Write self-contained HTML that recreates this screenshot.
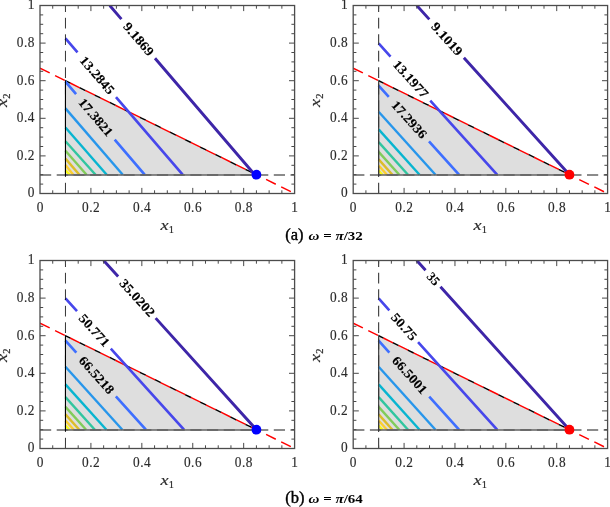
<!DOCTYPE html>
<html><head><meta charset="utf-8"><title>figure</title>
<style>
html,body{margin:0;padding:0;background:#fff;}
body{width:610px;height:507px;overflow:hidden;}
svg{display:block;font-family:"Liberation Serif", "DejaVu Serif", serif;}
</style></head><body>
<svg width="610" height="507" viewBox="0 0 610 507">
<rect x="0" y="0" width="610" height="507" fill="#fff"/>
<clipPath id="clip1"><rect x="40" y="5.5" width="254.6" height="188"/></clipPath>
<g clip-path="url(#clip1)">
<polygon points="65.46,174.7 65.46,80.7 256.41,174.7" fill="#DEDEDE"/>
<clipPath id="hyp1"><rect x="65.46" y="5.5" width="190.95" height="188"/></clipPath>
<path clip-path="url(#hyp1)" d="M40 68.17L294.6 193.5" stroke="#000" stroke-width="1.4" stroke-dasharray="6.6 10.2" stroke-dashoffset="6.3" fill="none"/>
<path d="M40 68.17L294.6 193.5" stroke="#F00" stroke-width="1.45" stroke-dasharray="10.8 6" fill="none"/>
<path d="M109.76 5.5L121.41 19.1M154.99 58.28L254.76 174.7" stroke="#3E26A8" stroke-width="2.9" fill="none"/>
<path d="M65.46 38.31L77.52 52.35M115.98 97.1L182.65 174.7" stroke="#4747EB" stroke-width="2.65" fill="none"/>
<path d="M65.46 81.64L76.09 94.13M114.71 139.52L144.64 174.7" stroke="#3E6FFF" stroke-width="2.65" fill="none"/>
<path d="M65.46 108.37L122.75 174.7" stroke="#2796EB" stroke-width="2.4" fill="none"/>
<path d="M65.46 127.57L106.71 174.7" stroke="#08B5D0" stroke-width="2.4" fill="none"/>
<path d="M65.46 141.18L95.55 174.7" stroke="#31C69F" stroke-width="2.4" fill="none"/>
<path d="M65.46 150.81L86.57 174.7" stroke="#81CC59" stroke-width="2.4" fill="none"/>
<path d="M65.46 158.61L79.41 174.7" stroke="#DCBD29" stroke-width="2.4" fill="none"/>
<path d="M65.46 164.89L73.25 174.7" stroke="#FCCF30" stroke-width="2.4" fill="none"/>
<path d="M65.46 170.41L69.58 174.7" stroke="#F9FB15" stroke-width="2.4" fill="none"/>
<path d="M40 175L294.6 175" stroke="#666" stroke-width="1.65" stroke-dasharray="11.2 5.5" fill="none"/>
<path d="M65.46 175L256.41 175" stroke="#606060" stroke-width="1.65" fill="none"/>
<path d="M65.46 80.2L65.46 175.7" stroke="#000" stroke-width="1.1" fill="none"/>
<path d="M65.46 193.5L65.46 5.5" stroke="#000" stroke-width="0.8" stroke-dasharray="10.7 5.8" fill="none"/>
<text transform="translate(138.6 39.14) rotate(49.41)" x="0" y="4.29" text-anchor="middle" font-weight="bold" font-size="13" textLength="39.77" lengthAdjust="spacingAndGlyphs" fill="#000" stroke="#000" stroke-width="0.12">9.1869</text>
<text transform="translate(97.15 75.17) rotate(49.33)" x="0" y="4.29" text-anchor="middle" font-weight="bold" font-size="13" textLength="45.59" lengthAdjust="spacingAndGlyphs" fill="#000" stroke="#000" stroke-width="0.12">13.2845</text>
<text transform="translate(95.8 117.28) rotate(49.61)" x="0" y="4.29" text-anchor="middle" font-weight="bold" font-size="13" textLength="45.59" lengthAdjust="spacingAndGlyphs" fill="#000" stroke="#000" stroke-width="0.12">17.3821</text>
</g>
<circle cx="256.41" cy="174.7" r="4.9" fill="#0000FF"/>
<path d="M52.73 193.5v-3.2M52.73 5.5v3.2M40 184.1h3.2M294.6 184.1h-3.2M65.46 193.5v-3.2M65.46 5.5v3.2M40 174.7h3.2M294.6 174.7h-3.2M78.19 193.5v-3.2M78.19 5.5v3.2M40 165.3h3.2M294.6 165.3h-3.2M90.92 193.5v-5.6M90.92 5.5v5.6M40 155.9h5.6M294.6 155.9h-5.6M103.65 193.5v-3.2M103.65 5.5v3.2M40 146.5h3.2M294.6 146.5h-3.2M116.38 193.5v-3.2M116.38 5.5v3.2M40 137.1h3.2M294.6 137.1h-3.2M129.11 193.5v-3.2M129.11 5.5v3.2M40 127.7h3.2M294.6 127.7h-3.2M141.84 193.5v-5.6M141.84 5.5v5.6M40 118.3h5.6M294.6 118.3h-5.6M154.57 193.5v-3.2M154.57 5.5v3.2M40 108.9h3.2M294.6 108.9h-3.2M167.3 193.5v-3.2M167.3 5.5v3.2M40 99.5h3.2M294.6 99.5h-3.2M180.03 193.5v-3.2M180.03 5.5v3.2M40 90.1h3.2M294.6 90.1h-3.2M192.76 193.5v-5.6M192.76 5.5v5.6M40 80.7h5.6M294.6 80.7h-5.6M205.49 193.5v-3.2M205.49 5.5v3.2M40 71.3h3.2M294.6 71.3h-3.2M218.22 193.5v-3.2M218.22 5.5v3.2M40 61.9h3.2M294.6 61.9h-3.2M230.95 193.5v-3.2M230.95 5.5v3.2M40 52.5h3.2M294.6 52.5h-3.2M243.68 193.5v-5.6M243.68 5.5v5.6M40 43.1h5.6M294.6 43.1h-5.6M256.41 193.5v-3.2M256.41 5.5v3.2M40 33.7h3.2M294.6 33.7h-3.2M269.14 193.5v-3.2M269.14 5.5v3.2M40 24.3h3.2M294.6 24.3h-3.2M281.87 193.5v-3.2M281.87 5.5v3.2M40 14.9h3.2M294.6 14.9h-3.2" stroke="#484848" stroke-width="1" fill="none"/>
<rect x="40" y="5.5" width="254.6" height="188" fill="none" stroke="#4c4c4c" stroke-width="1.3"/>
<text transform="translate(40.25 211.7) scale(0.89 1)" text-anchor="middle" font-size="15" letter-spacing="0.5617977528089888" fill="#2a2a2a" stroke="#2a2a2a" stroke-width="0.15">0</text>
<text transform="translate(35 197.3) scale(0.89 1)" text-anchor="end" font-size="15" letter-spacing="0.5617977528089888" fill="#2a2a2a" stroke="#2a2a2a" stroke-width="0.15">0</text>
<text transform="translate(91.17 211.7) scale(0.89 1)" text-anchor="middle" font-size="15" letter-spacing="0.5617977528089888" fill="#2a2a2a" stroke="#2a2a2a" stroke-width="0.15">0.2</text>
<text transform="translate(35 159.7) scale(0.89 1)" text-anchor="end" font-size="15" letter-spacing="0.5617977528089888" fill="#2a2a2a" stroke="#2a2a2a" stroke-width="0.15">0.2</text>
<text transform="translate(142.09 211.7) scale(0.89 1)" text-anchor="middle" font-size="15" letter-spacing="0.5617977528089888" fill="#2a2a2a" stroke="#2a2a2a" stroke-width="0.15">0.4</text>
<text transform="translate(35 122.1) scale(0.89 1)" text-anchor="end" font-size="15" letter-spacing="0.5617977528089888" fill="#2a2a2a" stroke="#2a2a2a" stroke-width="0.15">0.4</text>
<text transform="translate(193.01 211.7) scale(0.89 1)" text-anchor="middle" font-size="15" letter-spacing="0.5617977528089888" fill="#2a2a2a" stroke="#2a2a2a" stroke-width="0.15">0.6</text>
<text transform="translate(35 84.5) scale(0.89 1)" text-anchor="end" font-size="15" letter-spacing="0.5617977528089888" fill="#2a2a2a" stroke="#2a2a2a" stroke-width="0.15">0.6</text>
<text transform="translate(243.93 211.7) scale(0.89 1)" text-anchor="middle" font-size="15" letter-spacing="0.5617977528089888" fill="#2a2a2a" stroke="#2a2a2a" stroke-width="0.15">0.8</text>
<text transform="translate(35 46.9) scale(0.89 1)" text-anchor="end" font-size="15" letter-spacing="0.5617977528089888" fill="#2a2a2a" stroke="#2a2a2a" stroke-width="0.15">0.8</text>
<text transform="translate(294.85 211.7) scale(0.89 1)" text-anchor="middle" font-size="15" letter-spacing="0.5617977528089888" fill="#2a2a2a" stroke="#2a2a2a" stroke-width="0.15">1</text>
<text transform="translate(35 9.3) scale(0.89 1)" text-anchor="end" font-size="15" letter-spacing="0.5617977528089888" fill="#2a2a2a" stroke="#2a2a2a" stroke-width="0.15">1</text>
<text transform="translate(160.4 230.3) scale(1.18 1)" font-style="italic" font-size="15.5" fill="#2a2a2a" stroke="#2a2a2a" stroke-width="0.2">x</text>
<text x="168.7" y="233.2" font-size="10.5" fill="#2a2a2a" stroke="#2a2a2a" stroke-width="0.2">1</text>
<text transform="translate(6.6 107) rotate(-90) scale(1.18 1)" font-style="italic" font-size="15.5" fill="#2a2a2a" stroke="#2a2a2a" stroke-width="0.2">x</text>
<text transform="translate(9.5 98.7) rotate(-90)" font-size="10.5" fill="#2a2a2a" stroke="#2a2a2a" stroke-width="0.2">2</text>
<clipPath id="clip2"><rect x="353.2" y="5.5" width="254.4" height="188"/></clipPath>
<g clip-path="url(#clip2)">
<polygon points="378.64,174.7 378.64,80.7 569.44,174.7" fill="#DEDEDE"/>
<clipPath id="hyp2"><rect x="378.64" y="5.5" width="190.8" height="188"/></clipPath>
<path clip-path="url(#hyp2)" d="M353.2 68.17L607.6 193.5" stroke="#000" stroke-width="1.4" stroke-dasharray="6.6 10.2" stroke-dashoffset="6.3" fill="none"/>
<path d="M353.2 68.17L607.6 193.5" stroke="#F00" stroke-width="1.45" stroke-dasharray="10.8 6" fill="none"/>
<path d="M416.8 5.5L429.32 19.38M463.88 57.69L569.44 174.7" stroke="#3E26A8" stroke-width="2.9" fill="none"/>
<path d="M378.64 43.42L390.54 56.61M430.26 100.65L497.07 174.7" stroke="#4747EB" stroke-width="2.65" fill="none"/>
<path d="M378.64 85.65L388.8 96.92M429 141.47L458.98 174.7" stroke="#3E6FFF" stroke-width="2.65" fill="none"/>
<path d="M378.64 111.7L435.47 174.7" stroke="#2796EB" stroke-width="2.4" fill="none"/>
<path d="M378.64 129.38L419.53 174.7" stroke="#08B5D0" stroke-width="2.4" fill="none"/>
<path d="M378.64 142.16L407.99 174.7" stroke="#31C69F" stroke-width="2.4" fill="none"/>
<path d="M378.64 151.84L399.27 174.7" stroke="#81CC59" stroke-width="2.4" fill="none"/>
<path d="M378.64 159.41L392.43 174.7" stroke="#DCBD29" stroke-width="2.4" fill="none"/>
<path d="M378.64 165.5L386.94 174.7" stroke="#FCCF30" stroke-width="2.4" fill="none"/>
<path d="M378.64 170.51L382.42 174.7" stroke="#F9FB15" stroke-width="2.4" fill="none"/>
<path d="M353.2 175L607.6 175" stroke="#666" stroke-width="1.65" stroke-dasharray="11.2 5.5" fill="none"/>
<path d="M378.64 175L569.44 175" stroke="#606060" stroke-width="1.65" fill="none"/>
<path d="M378.64 80.2L378.64 175.7" stroke="#404040" stroke-width="1.2" fill="none"/>
<path d="M378.64 193.5L378.64 5.5" stroke="#383838" stroke-width="1.1" stroke-dasharray="10.7 5.8" fill="none"/>
<text transform="translate(447 38.98) rotate(47.95)" x="0" y="4.29" text-anchor="middle" font-weight="bold" font-size="13" textLength="39.77" lengthAdjust="spacingAndGlyphs" fill="#000" stroke="#000" stroke-width="0.12">9.1019</text>
<text transform="translate(410.8 79.08) rotate(47.95)" x="0" y="4.29" text-anchor="middle" font-weight="bold" font-size="13" textLength="45.59" lengthAdjust="spacingAndGlyphs" fill="#000" stroke="#000" stroke-width="0.12">13.1977</text>
<text transform="translate(409.3 119.64) rotate(47.95)" x="0" y="4.29" text-anchor="middle" font-weight="bold" font-size="13" textLength="45.59" lengthAdjust="spacingAndGlyphs" fill="#000" stroke="#000" stroke-width="0.12">17.2936</text>
</g>
<circle cx="569.44" cy="174.7" r="4.9" fill="#FF0000"/>
<path d="M365.92 193.5v-3.2M365.92 5.5v3.2M353.2 184.1h3.2M607.6 184.1h-3.2M378.64 193.5v-3.2M378.64 5.5v3.2M353.2 174.7h3.2M607.6 174.7h-3.2M391.36 193.5v-3.2M391.36 5.5v3.2M353.2 165.3h3.2M607.6 165.3h-3.2M404.08 193.5v-5.6M404.08 5.5v5.6M353.2 155.9h5.6M607.6 155.9h-5.6M416.8 193.5v-3.2M416.8 5.5v3.2M353.2 146.5h3.2M607.6 146.5h-3.2M429.52 193.5v-3.2M429.52 5.5v3.2M353.2 137.1h3.2M607.6 137.1h-3.2M442.24 193.5v-3.2M442.24 5.5v3.2M353.2 127.7h3.2M607.6 127.7h-3.2M454.96 193.5v-5.6M454.96 5.5v5.6M353.2 118.3h5.6M607.6 118.3h-5.6M467.68 193.5v-3.2M467.68 5.5v3.2M353.2 108.9h3.2M607.6 108.9h-3.2M480.4 193.5v-3.2M480.4 5.5v3.2M353.2 99.5h3.2M607.6 99.5h-3.2M493.12 193.5v-3.2M493.12 5.5v3.2M353.2 90.1h3.2M607.6 90.1h-3.2M505.84 193.5v-5.6M505.84 5.5v5.6M353.2 80.7h5.6M607.6 80.7h-5.6M518.56 193.5v-3.2M518.56 5.5v3.2M353.2 71.3h3.2M607.6 71.3h-3.2M531.28 193.5v-3.2M531.28 5.5v3.2M353.2 61.9h3.2M607.6 61.9h-3.2M544 193.5v-3.2M544 5.5v3.2M353.2 52.5h3.2M607.6 52.5h-3.2M556.72 193.5v-5.6M556.72 5.5v5.6M353.2 43.1h5.6M607.6 43.1h-5.6M569.44 193.5v-3.2M569.44 5.5v3.2M353.2 33.7h3.2M607.6 33.7h-3.2M582.16 193.5v-3.2M582.16 5.5v3.2M353.2 24.3h3.2M607.6 24.3h-3.2M594.88 193.5v-3.2M594.88 5.5v3.2M353.2 14.9h3.2M607.6 14.9h-3.2" stroke="#484848" stroke-width="1" fill="none"/>
<rect x="353.2" y="5.5" width="254.4" height="188" fill="none" stroke="#4c4c4c" stroke-width="1.3"/>
<text transform="translate(353.45 211.7) scale(0.89 1)" text-anchor="middle" font-size="15" letter-spacing="0.5617977528089888" fill="#2a2a2a" stroke="#2a2a2a" stroke-width="0.15">0</text>
<text transform="translate(348.2 197.3) scale(0.89 1)" text-anchor="end" font-size="15" letter-spacing="0.5617977528089888" fill="#2a2a2a" stroke="#2a2a2a" stroke-width="0.15">0</text>
<text transform="translate(404.33 211.7) scale(0.89 1)" text-anchor="middle" font-size="15" letter-spacing="0.5617977528089888" fill="#2a2a2a" stroke="#2a2a2a" stroke-width="0.15">0.2</text>
<text transform="translate(348.2 159.7) scale(0.89 1)" text-anchor="end" font-size="15" letter-spacing="0.5617977528089888" fill="#2a2a2a" stroke="#2a2a2a" stroke-width="0.15">0.2</text>
<text transform="translate(455.21 211.7) scale(0.89 1)" text-anchor="middle" font-size="15" letter-spacing="0.5617977528089888" fill="#2a2a2a" stroke="#2a2a2a" stroke-width="0.15">0.4</text>
<text transform="translate(348.2 122.1) scale(0.89 1)" text-anchor="end" font-size="15" letter-spacing="0.5617977528089888" fill="#2a2a2a" stroke="#2a2a2a" stroke-width="0.15">0.4</text>
<text transform="translate(506.09 211.7) scale(0.89 1)" text-anchor="middle" font-size="15" letter-spacing="0.5617977528089888" fill="#2a2a2a" stroke="#2a2a2a" stroke-width="0.15">0.6</text>
<text transform="translate(348.2 84.5) scale(0.89 1)" text-anchor="end" font-size="15" letter-spacing="0.5617977528089888" fill="#2a2a2a" stroke="#2a2a2a" stroke-width="0.15">0.6</text>
<text transform="translate(556.97 211.7) scale(0.89 1)" text-anchor="middle" font-size="15" letter-spacing="0.5617977528089888" fill="#2a2a2a" stroke="#2a2a2a" stroke-width="0.15">0.8</text>
<text transform="translate(348.2 46.9) scale(0.89 1)" text-anchor="end" font-size="15" letter-spacing="0.5617977528089888" fill="#2a2a2a" stroke="#2a2a2a" stroke-width="0.15">0.8</text>
<text transform="translate(607.85 211.7) scale(0.89 1)" text-anchor="middle" font-size="15" letter-spacing="0.5617977528089888" fill="#2a2a2a" stroke="#2a2a2a" stroke-width="0.15">1</text>
<text transform="translate(348.2 9.3) scale(0.89 1)" text-anchor="end" font-size="15" letter-spacing="0.5617977528089888" fill="#2a2a2a" stroke="#2a2a2a" stroke-width="0.15">1</text>
<text transform="translate(473.5 230.3) scale(1.18 1)" font-style="italic" font-size="15.5" fill="#2a2a2a" stroke="#2a2a2a" stroke-width="0.2">x</text>
<text x="481.8" y="233.2" font-size="10.5" fill="#2a2a2a" stroke="#2a2a2a" stroke-width="0.2">1</text>
<text transform="translate(319.8 107) rotate(-90) scale(1.18 1)" font-style="italic" font-size="15.5" fill="#2a2a2a" stroke="#2a2a2a" stroke-width="0.2">x</text>
<text transform="translate(322.7 98.7) rotate(-90)" font-size="10.5" fill="#2a2a2a" stroke="#2a2a2a" stroke-width="0.2">2</text>
<clipPath id="clip3"><rect x="40" y="260.5" width="254.6" height="188"/></clipPath>
<g clip-path="url(#clip3)">
<polygon points="65.46,429.7 65.46,335.7 256.41,429.7" fill="#DEDEDE"/>
<clipPath id="hyp3"><rect x="65.46" y="260.5" width="190.95" height="188"/></clipPath>
<path clip-path="url(#hyp3)" d="M40 323.17L294.6 448.5" stroke="#000" stroke-width="1.4" stroke-dasharray="6.6 10.2" stroke-dashoffset="6.3" fill="none"/>
<path d="M40 323.17L294.6 448.5" stroke="#F00" stroke-width="1.45" stroke-dasharray="10.8 6" fill="none"/>
<path d="M103.65 260.5L118.14 276.55M155.66 318.11L256.41 429.7" stroke="#3E26A8" stroke-width="2.9" fill="none"/>
<path d="M65.46 298.42L77.01 311.22M110.79 348.63L183.98 429.7" stroke="#4747EB" stroke-width="2.65" fill="none"/>
<path d="M65.46 340.65L76.33 352.69M115.87 396.48L145.86 429.7" stroke="#3E6FFF" stroke-width="2.65" fill="none"/>
<path d="M65.46 366.7L122.34 429.7" stroke="#2796EB" stroke-width="2.4" fill="none"/>
<path d="M65.46 384.38L106.38 429.7" stroke="#08B5D0" stroke-width="2.4" fill="none"/>
<path d="M65.46 397.16L94.84 429.7" stroke="#31C69F" stroke-width="2.4" fill="none"/>
<path d="M65.46 406.84L86.1 429.7" stroke="#81CC59" stroke-width="2.4" fill="none"/>
<path d="M65.46 414.41L79.26 429.7" stroke="#DCBD29" stroke-width="2.4" fill="none"/>
<path d="M65.46 420.5L73.76 429.7" stroke="#FCCF30" stroke-width="2.4" fill="none"/>
<path d="M65.46 425.51L69.24 429.7" stroke="#F9FB15" stroke-width="2.4" fill="none"/>
<path d="M40 430L294.6 430" stroke="#666" stroke-width="1.65" stroke-dasharray="11.2 5.5" fill="none"/>
<path d="M65.46 430L256.41 430" stroke="#606060" stroke-width="1.65" fill="none"/>
<path d="M65.46 335.2L65.46 430.7" stroke="#000" stroke-width="1.1" fill="none"/>
<path d="M65.46 448.5L65.46 260.5" stroke="#000" stroke-width="0.8" stroke-dasharray="10.7 5.8" fill="none"/>
<text transform="translate(137.3 297.78) rotate(47.92)" x="0" y="4.29" text-anchor="middle" font-weight="bold" font-size="13" textLength="45.59" lengthAdjust="spacingAndGlyphs" fill="#000" stroke="#000" stroke-width="0.12">35.0202</text>
<text transform="translate(94.3 330.37) rotate(47.92)" x="0" y="4.29" text-anchor="middle" font-weight="bold" font-size="13" textLength="38.8" lengthAdjust="spacingAndGlyphs" fill="#000" stroke="#000" stroke-width="0.12">50.771</text>
<text transform="translate(96.5 375.03) rotate(47.92)" x="0" y="4.29" text-anchor="middle" font-weight="bold" font-size="13" textLength="45.59" lengthAdjust="spacingAndGlyphs" fill="#000" stroke="#000" stroke-width="0.12">66.5218</text>
</g>
<circle cx="256.41" cy="429.7" r="4.9" fill="#0000FF"/>
<path d="M52.73 448.5v-3.2M52.73 260.5v3.2M40 439.1h3.2M294.6 439.1h-3.2M65.46 448.5v-3.2M65.46 260.5v3.2M40 429.7h3.2M294.6 429.7h-3.2M78.19 448.5v-3.2M78.19 260.5v3.2M40 420.3h3.2M294.6 420.3h-3.2M90.92 448.5v-5.6M90.92 260.5v5.6M40 410.9h5.6M294.6 410.9h-5.6M103.65 448.5v-3.2M103.65 260.5v3.2M40 401.5h3.2M294.6 401.5h-3.2M116.38 448.5v-3.2M116.38 260.5v3.2M40 392.1h3.2M294.6 392.1h-3.2M129.11 448.5v-3.2M129.11 260.5v3.2M40 382.7h3.2M294.6 382.7h-3.2M141.84 448.5v-5.6M141.84 260.5v5.6M40 373.3h5.6M294.6 373.3h-5.6M154.57 448.5v-3.2M154.57 260.5v3.2M40 363.9h3.2M294.6 363.9h-3.2M167.3 448.5v-3.2M167.3 260.5v3.2M40 354.5h3.2M294.6 354.5h-3.2M180.03 448.5v-3.2M180.03 260.5v3.2M40 345.1h3.2M294.6 345.1h-3.2M192.76 448.5v-5.6M192.76 260.5v5.6M40 335.7h5.6M294.6 335.7h-5.6M205.49 448.5v-3.2M205.49 260.5v3.2M40 326.3h3.2M294.6 326.3h-3.2M218.22 448.5v-3.2M218.22 260.5v3.2M40 316.9h3.2M294.6 316.9h-3.2M230.95 448.5v-3.2M230.95 260.5v3.2M40 307.5h3.2M294.6 307.5h-3.2M243.68 448.5v-5.6M243.68 260.5v5.6M40 298.1h5.6M294.6 298.1h-5.6M256.41 448.5v-3.2M256.41 260.5v3.2M40 288.7h3.2M294.6 288.7h-3.2M269.14 448.5v-3.2M269.14 260.5v3.2M40 279.3h3.2M294.6 279.3h-3.2M281.87 448.5v-3.2M281.87 260.5v3.2M40 269.9h3.2M294.6 269.9h-3.2" stroke="#484848" stroke-width="1" fill="none"/>
<rect x="40" y="260.5" width="254.6" height="188" fill="none" stroke="#4c4c4c" stroke-width="1.3"/>
<text transform="translate(40.25 466.7) scale(0.89 1)" text-anchor="middle" font-size="15" letter-spacing="0.5617977528089888" fill="#2a2a2a" stroke="#2a2a2a" stroke-width="0.15">0</text>
<text transform="translate(35 452.3) scale(0.89 1)" text-anchor="end" font-size="15" letter-spacing="0.5617977528089888" fill="#2a2a2a" stroke="#2a2a2a" stroke-width="0.15">0</text>
<text transform="translate(91.17 466.7) scale(0.89 1)" text-anchor="middle" font-size="15" letter-spacing="0.5617977528089888" fill="#2a2a2a" stroke="#2a2a2a" stroke-width="0.15">0.2</text>
<text transform="translate(35 414.7) scale(0.89 1)" text-anchor="end" font-size="15" letter-spacing="0.5617977528089888" fill="#2a2a2a" stroke="#2a2a2a" stroke-width="0.15">0.2</text>
<text transform="translate(142.09 466.7) scale(0.89 1)" text-anchor="middle" font-size="15" letter-spacing="0.5617977528089888" fill="#2a2a2a" stroke="#2a2a2a" stroke-width="0.15">0.4</text>
<text transform="translate(35 377.1) scale(0.89 1)" text-anchor="end" font-size="15" letter-spacing="0.5617977528089888" fill="#2a2a2a" stroke="#2a2a2a" stroke-width="0.15">0.4</text>
<text transform="translate(193.01 466.7) scale(0.89 1)" text-anchor="middle" font-size="15" letter-spacing="0.5617977528089888" fill="#2a2a2a" stroke="#2a2a2a" stroke-width="0.15">0.6</text>
<text transform="translate(35 339.5) scale(0.89 1)" text-anchor="end" font-size="15" letter-spacing="0.5617977528089888" fill="#2a2a2a" stroke="#2a2a2a" stroke-width="0.15">0.6</text>
<text transform="translate(243.93 466.7) scale(0.89 1)" text-anchor="middle" font-size="15" letter-spacing="0.5617977528089888" fill="#2a2a2a" stroke="#2a2a2a" stroke-width="0.15">0.8</text>
<text transform="translate(35 301.9) scale(0.89 1)" text-anchor="end" font-size="15" letter-spacing="0.5617977528089888" fill="#2a2a2a" stroke="#2a2a2a" stroke-width="0.15">0.8</text>
<text transform="translate(294.85 466.7) scale(0.89 1)" text-anchor="middle" font-size="15" letter-spacing="0.5617977528089888" fill="#2a2a2a" stroke="#2a2a2a" stroke-width="0.15">1</text>
<text transform="translate(35 264.3) scale(0.89 1)" text-anchor="end" font-size="15" letter-spacing="0.5617977528089888" fill="#2a2a2a" stroke="#2a2a2a" stroke-width="0.15">1</text>
<text transform="translate(160.4 485.3) scale(1.18 1)" font-style="italic" font-size="15.5" fill="#2a2a2a" stroke="#2a2a2a" stroke-width="0.2">x</text>
<text x="168.7" y="488.2" font-size="10.5" fill="#2a2a2a" stroke="#2a2a2a" stroke-width="0.2">1</text>
<text transform="translate(6.6 362) rotate(-90) scale(1.18 1)" font-style="italic" font-size="15.5" fill="#2a2a2a" stroke="#2a2a2a" stroke-width="0.2">x</text>
<text transform="translate(9.5 353.7) rotate(-90)" font-size="10.5" fill="#2a2a2a" stroke="#2a2a2a" stroke-width="0.2">2</text>
<clipPath id="clip4"><rect x="353.2" y="260.5" width="254.4" height="188"/></clipPath>
<g clip-path="url(#clip4)">
<polygon points="378.64,429.7 378.64,335.7 569.44,429.7" fill="#DEDEDE"/>
<clipPath id="hyp4"><rect x="378.64" y="260.5" width="190.8" height="188"/></clipPath>
<path clip-path="url(#hyp4)" d="M353.2 323.17L607.6 448.5" stroke="#000" stroke-width="1.4" stroke-dasharray="6.6 10.2" stroke-dashoffset="6.3" fill="none"/>
<path d="M353.2 323.17L607.6 448.5" stroke="#F00" stroke-width="1.45" stroke-dasharray="10.8 6" fill="none"/>
<path d="M416.8 260.5L425.56 270.22M440.44 286.7L569.44 429.7" stroke="#3E26A8" stroke-width="2.9" fill="none"/>
<path d="M378.64 298.42L389.33 310.28M418.07 342.13L497.07 429.7" stroke="#4747EB" stroke-width="2.65" fill="none"/>
<path d="M378.64 340.65L389.37 352.54M429.23 396.72L458.98 429.7" stroke="#3E6FFF" stroke-width="2.65" fill="none"/>
<path d="M378.64 366.7L435.47 429.7" stroke="#2796EB" stroke-width="2.4" fill="none"/>
<path d="M378.64 384.38L419.53 429.7" stroke="#08B5D0" stroke-width="2.4" fill="none"/>
<path d="M378.64 397.16L407.99 429.7" stroke="#31C69F" stroke-width="2.4" fill="none"/>
<path d="M378.64 406.84L399.27 429.7" stroke="#81CC59" stroke-width="2.4" fill="none"/>
<path d="M378.64 414.41L392.43 429.7" stroke="#DCBD29" stroke-width="2.4" fill="none"/>
<path d="M378.64 420.5L386.94 429.7" stroke="#FCCF30" stroke-width="2.4" fill="none"/>
<path d="M378.64 425.51L382.42 429.7" stroke="#F9FB15" stroke-width="2.4" fill="none"/>
<path d="M353.2 430L607.6 430" stroke="#666" stroke-width="1.65" stroke-dasharray="11.2 5.5" fill="none"/>
<path d="M378.64 430L569.44 430" stroke="#606060" stroke-width="1.65" fill="none"/>
<path d="M378.64 335.2L378.64 430.7" stroke="#404040" stroke-width="1.2" fill="none"/>
<path d="M378.64 448.5L378.64 260.5" stroke="#383838" stroke-width="1.1" stroke-dasharray="10.7 5.8" fill="none"/>
<text transform="translate(433.4 278.91) rotate(47.95)" x="0" y="4.29" text-anchor="middle" font-weight="bold" font-size="13" textLength="12.61" lengthAdjust="spacingAndGlyphs" fill="#000" stroke="#000" stroke-width="0.12">35</text>
<text transform="translate(404.1 326.65) rotate(47.95)" x="0" y="4.29" text-anchor="middle" font-weight="bold" font-size="13" textLength="32.01" lengthAdjust="spacingAndGlyphs" fill="#000" stroke="#000" stroke-width="0.12">50.75</text>
<text transform="translate(409.7 375.08) rotate(47.95)" x="0" y="4.29" text-anchor="middle" font-weight="bold" font-size="13" textLength="45.59" lengthAdjust="spacingAndGlyphs" fill="#000" stroke="#000" stroke-width="0.12">66.5001</text>
</g>
<circle cx="569.44" cy="429.7" r="4.9" fill="#FF0000"/>
<path d="M365.92 448.5v-3.2M365.92 260.5v3.2M353.2 439.1h3.2M607.6 439.1h-3.2M378.64 448.5v-3.2M378.64 260.5v3.2M353.2 429.7h3.2M607.6 429.7h-3.2M391.36 448.5v-3.2M391.36 260.5v3.2M353.2 420.3h3.2M607.6 420.3h-3.2M404.08 448.5v-5.6M404.08 260.5v5.6M353.2 410.9h5.6M607.6 410.9h-5.6M416.8 448.5v-3.2M416.8 260.5v3.2M353.2 401.5h3.2M607.6 401.5h-3.2M429.52 448.5v-3.2M429.52 260.5v3.2M353.2 392.1h3.2M607.6 392.1h-3.2M442.24 448.5v-3.2M442.24 260.5v3.2M353.2 382.7h3.2M607.6 382.7h-3.2M454.96 448.5v-5.6M454.96 260.5v5.6M353.2 373.3h5.6M607.6 373.3h-5.6M467.68 448.5v-3.2M467.68 260.5v3.2M353.2 363.9h3.2M607.6 363.9h-3.2M480.4 448.5v-3.2M480.4 260.5v3.2M353.2 354.5h3.2M607.6 354.5h-3.2M493.12 448.5v-3.2M493.12 260.5v3.2M353.2 345.1h3.2M607.6 345.1h-3.2M505.84 448.5v-5.6M505.84 260.5v5.6M353.2 335.7h5.6M607.6 335.7h-5.6M518.56 448.5v-3.2M518.56 260.5v3.2M353.2 326.3h3.2M607.6 326.3h-3.2M531.28 448.5v-3.2M531.28 260.5v3.2M353.2 316.9h3.2M607.6 316.9h-3.2M544 448.5v-3.2M544 260.5v3.2M353.2 307.5h3.2M607.6 307.5h-3.2M556.72 448.5v-5.6M556.72 260.5v5.6M353.2 298.1h5.6M607.6 298.1h-5.6M569.44 448.5v-3.2M569.44 260.5v3.2M353.2 288.7h3.2M607.6 288.7h-3.2M582.16 448.5v-3.2M582.16 260.5v3.2M353.2 279.3h3.2M607.6 279.3h-3.2M594.88 448.5v-3.2M594.88 260.5v3.2M353.2 269.9h3.2M607.6 269.9h-3.2" stroke="#484848" stroke-width="1" fill="none"/>
<rect x="353.2" y="260.5" width="254.4" height="188" fill="none" stroke="#4c4c4c" stroke-width="1.3"/>
<text transform="translate(353.45 466.7) scale(0.89 1)" text-anchor="middle" font-size="15" letter-spacing="0.5617977528089888" fill="#2a2a2a" stroke="#2a2a2a" stroke-width="0.15">0</text>
<text transform="translate(348.2 452.3) scale(0.89 1)" text-anchor="end" font-size="15" letter-spacing="0.5617977528089888" fill="#2a2a2a" stroke="#2a2a2a" stroke-width="0.15">0</text>
<text transform="translate(404.33 466.7) scale(0.89 1)" text-anchor="middle" font-size="15" letter-spacing="0.5617977528089888" fill="#2a2a2a" stroke="#2a2a2a" stroke-width="0.15">0.2</text>
<text transform="translate(348.2 414.7) scale(0.89 1)" text-anchor="end" font-size="15" letter-spacing="0.5617977528089888" fill="#2a2a2a" stroke="#2a2a2a" stroke-width="0.15">0.2</text>
<text transform="translate(455.21 466.7) scale(0.89 1)" text-anchor="middle" font-size="15" letter-spacing="0.5617977528089888" fill="#2a2a2a" stroke="#2a2a2a" stroke-width="0.15">0.4</text>
<text transform="translate(348.2 377.1) scale(0.89 1)" text-anchor="end" font-size="15" letter-spacing="0.5617977528089888" fill="#2a2a2a" stroke="#2a2a2a" stroke-width="0.15">0.4</text>
<text transform="translate(506.09 466.7) scale(0.89 1)" text-anchor="middle" font-size="15" letter-spacing="0.5617977528089888" fill="#2a2a2a" stroke="#2a2a2a" stroke-width="0.15">0.6</text>
<text transform="translate(348.2 339.5) scale(0.89 1)" text-anchor="end" font-size="15" letter-spacing="0.5617977528089888" fill="#2a2a2a" stroke="#2a2a2a" stroke-width="0.15">0.6</text>
<text transform="translate(556.97 466.7) scale(0.89 1)" text-anchor="middle" font-size="15" letter-spacing="0.5617977528089888" fill="#2a2a2a" stroke="#2a2a2a" stroke-width="0.15">0.8</text>
<text transform="translate(348.2 301.9) scale(0.89 1)" text-anchor="end" font-size="15" letter-spacing="0.5617977528089888" fill="#2a2a2a" stroke="#2a2a2a" stroke-width="0.15">0.8</text>
<text transform="translate(607.85 466.7) scale(0.89 1)" text-anchor="middle" font-size="15" letter-spacing="0.5617977528089888" fill="#2a2a2a" stroke="#2a2a2a" stroke-width="0.15">1</text>
<text transform="translate(348.2 264.3) scale(0.89 1)" text-anchor="end" font-size="15" letter-spacing="0.5617977528089888" fill="#2a2a2a" stroke="#2a2a2a" stroke-width="0.15">1</text>
<text transform="translate(473.5 485.3) scale(1.18 1)" font-style="italic" font-size="15.5" fill="#2a2a2a" stroke="#2a2a2a" stroke-width="0.2">x</text>
<text x="481.8" y="488.2" font-size="10.5" fill="#2a2a2a" stroke="#2a2a2a" stroke-width="0.2">1</text>
<text transform="translate(319.8 362) rotate(-90) scale(1.18 1)" font-style="italic" font-size="15.5" fill="#2a2a2a" stroke="#2a2a2a" stroke-width="0.2">x</text>
<text transform="translate(322.7 353.7) rotate(-90)" font-size="10.5" fill="#2a2a2a" stroke="#2a2a2a" stroke-width="0.2">2</text>
<text x="285.3" y="239.8" font-size="16.5" fill="#000" stroke="#000" stroke-width="0.4">(a)</text><text transform="translate(308.6 239.5) scale(1.17 1)" font-size="12.8" font-weight="bold" fill="#000"><tspan font-style="italic">ω</tspan> = <tspan font-style="italic">π</tspan>/32</text>
<text x="285.3" y="502.9" font-size="16.5" fill="#000" stroke="#000" stroke-width="0.4">(b)</text><text transform="translate(308.6 502.6) scale(1.17 1)" font-size="12.8" font-weight="bold" fill="#000"><tspan font-style="italic">ω</tspan> = <tspan font-style="italic">π</tspan>/64</text>
</svg>
</body></html>
